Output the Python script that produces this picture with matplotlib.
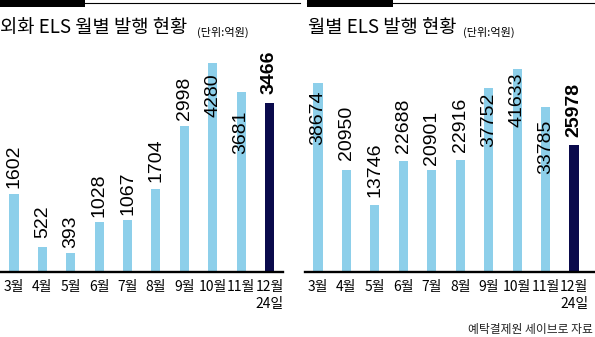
import matplotlib
matplotlib.use("Agg")
import matplotlib.pyplot as plt
from matplotlib.patches import Rectangle
from matplotlib.lines import Line2D

# ---- data ----
months = ['3월', '4월', '5월', '6월', '7월', '8월', '9월', '10월', '11월', '12월\n24일']
fx_els = [1602, 522, 393, 1028, 1067, 1704, 2998, 4280, 3681, 3466]
all_els = [38674, 20950, 13746, 22688, 20901, 22916, 37752, 41633, 33785, 25978]
title_left = '외화 ELS 월별 발행 현황'
title_right = '월별 ELS 발행 현황'
unit_text = '(단위:억원)'
source_text = '예탁결제원 세이브로 자료'

# ---- style ----
LIGHT = '#8dcfea'
DARK = '#0a0a4c'
KR = ['Noto Sans CJK KR', 'DejaVu Sans']
NUM = ['Liberation Sans Narrow', 'Liberation Sans', 'DejaVu Sans']
# label gap from bar top in pixels (positive = above the bar, negative = inside)
gap_left = [6, 9, 5, 5, 5, 7, 6, -10, -18, 9]
gap_right = [-7, 10, 8, 8, 5, 8, -5, -4, -12, 8]

W, H = 595, 337
fig = plt.figure(figsize=(W / 100, H / 100), dpi=100)


def rect(x0, x1, ytop, ybot):
    return [x0 / W, 1 - ybot / H, (x1 - x0) / W, (ybot - ytop) / H]


def draw(ax, values, gaps, ymax, xlim):
    n = len(values)
    colors = [LIGHT] * (n - 1) + [DARK]
    xs = list(range(n))
    ax.bar(xs, values, width=0.32, color=colors, zorder=2)
    ax.set_xlim(*xlim)
    ax.set_ylim(0, ymax)
    for s in ['top', 'left', 'right']:
        ax.spines[s].set_visible(False)
    ax.spines['bottom'].set_linewidth(1.7)
    ax.spines['bottom'].set_color('black')
    ax.spines['bottom'].set_zorder(3)
    ax.set_yticks([])
    ax.set_xticks(xs)
    ax.set_xticklabels(months, fontfamily=KR, fontsize=10,
                       multialignment='right', linespacing=1.2)
    ax.tick_params(axis='x', length=0, pad=6)
    for i, (x, v, g) in enumerate(zip(xs, values, gaps)):
        last = i == n - 1
        ax.annotate(f'{v}', xy=(x, v), xytext=(0, g * 0.72),
                    textcoords='offset points', rotation=90,
                    ha='center', va='bottom' if g > 0 else 'top',
                    fontfamily=NUM, fontsize=14,
                    fontweight='bold' if last else 'normal',
                    color='black', zorder=4)


axL = fig.add_axes(rect(0, 283, 55, 272))
draw(axL, fx_els, gap_left, 217 * 20.5, (-0.493, 9.476))
axR = fig.add_axes(rect(305, 595, 55, 272))
draw(axR, all_els, gap_right, 217 * 205, (-0.457, 9.74))

# titles
fig.text(0 / W, 1 - 38 / H, title_left, fontfamily=KR, fontsize=13.5,
         ha='left', va='bottom')
fig.text(197 / W, 1 - 38 / H, unit_text, fontfamily=KR, fontsize=8,
         ha='left', va='bottom')
fig.text(308 / W, 1 - 38 / H, title_right, fontfamily=KR, fontsize=13.5,
         ha='left', va='bottom')
fig.text(463 / W, 1 - 38 / H, unit_text, fontfamily=KR, fontsize=8,
         ha='left', va='bottom')
fig.text(593 / W, 1 - 336 / H, source_text, fontfamily=KR, fontsize=8.5,
         ha='right', va='bottom', color='#222222')

# top decorations
fig.add_artist(Line2D([0, 300 / W], [1 - 3 / H, 1 - 3 / H],
                      transform=fig.transFigure, color='black', lw=0.8))
fig.add_artist(Line2D([307 / W, 1], [1 - 3 / H, 1 - 3 / H],
                      transform=fig.transFigure, color='black', lw=0.8))
fig.add_artist(Rectangle((0, 1 - 6.7 / H), 85 / W, 6.7 / H,
                         transform=fig.transFigure, color='black', lw=0))
fig.add_artist(Rectangle((307 / W, 1 - 6.7 / H), 86 / W, 6.7 / H,
                         transform=fig.transFigure, color='black', lw=0))

fig.savefig('out.png', dpi=100)
